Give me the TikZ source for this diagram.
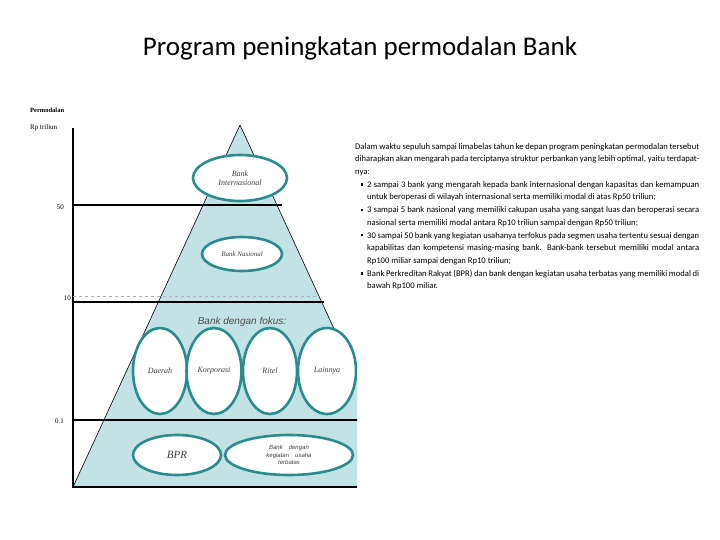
\documentclass[tikz,border=0pt]{standalone}
\usetikzlibrary{shapes.geometric}
\usepackage{fontspec}
\setmainfont{Liberation Serif}
\newfontfamily\carfont{Carlito}
\newfontfamily\ars{Liberation Sans}
\definecolor{pyr}{HTML}{C3E2E5}
\definecolor{ring}{HTML}{2A8C8E}
\begin{document}
\begin{tikzpicture}[x=1pt,y=-1pt,
  ell/.style={draw=ring,line width=2.6pt,fill=white,ellipse,inner sep=0pt},
  lbl/.style={font=\itshape\fontsize{8}{9}\selectfont,align=center,text=black!75},
  ax/.style={font=\fontsize{7}{8}\selectfont}]
\useasboundingbox (0,0) rectangle (720,540);
\node (title) at (360,48) {\carfont\fontsize{27}{30}\selectfont Program peningkatan permodalan Bank};
\begin{scope}
\clip (0,90) rectangle (357,495);
\fill[pyr] (240,125) -- (73,487) -- (407,487) -- cycle;
\draw[line width=0.6pt] (240,125) -- (73,487) (240,125) -- (407,487);
\draw[line width=1.2pt] (73,128) -- (73,487) -- (400,487);
\draw[line width=1.3pt] (73,205) -- (282,205);
\draw[gray!60,dashed,line width=0.4pt] (73,296) -- (316,296);
\draw[line width=1.3pt] (73,302) -- (324,302);
\draw[line width=2pt] (73,420) -- (400,420);
\node[ell,minimum width=94pt,minimum height=46pt] (bi) at (240,178) {};
\node[lbl] at (bi) {Bank\\Internasional};
\node[ell,minimum width=80pt,minimum height=34pt] (bn) at (242,254) {};
\node[lbl,font=\itshape\fontsize{7}{8}\selectfont] at (bn) {Bank Nasional};
\node[font=\ars\itshape\fontsize{10}{12}\selectfont,text=black!70] (fok) at (242,322) {Bank dengan fokus:};
\node[ell,minimum width=54pt,minimum height=86pt] (da) at (160,371) {};
\node[ell,minimum width=55pt,minimum height=86pt] (ko) at (214,371) {};
\node[ell,minimum width=54pt,minimum height=86pt] (ri) at (270,371) {};
\node[ell,minimum width=58pt,minimum height=86pt] (la) at (327,371) {};
\node[lbl] at (da) {Daerah};
\node[lbl] at (ko) {Korporasi};
\node[lbl] at (ri) {Ritel};
\node[lbl] at (la) {Lainnya};
\node[ell,minimum width=88pt,minimum height=40pt] (bpr) at (177,455) {};
\node[lbl,font=\itshape\fontsize{11}{12}\selectfont] at (bpr) {BPR};
\node[ell,minimum width=128pt,minimum height=40pt] (bk) at (289,455) {};
\node[lbl,font=\ars\itshape\fontsize{6}{7.5}\selectfont] at (bk) {Bank\quad dengan\\kegiatan\quad usaha\\terbatas};
\end{scope}
\node[ax,font=\bfseries\fontsize{6.5}{7}\selectfont,anchor=west,inner sep=0pt] (pm) at (30,110) {Permodalan};
\node[ax,anchor=west,inner sep=0pt] (rp) at (30,128) {Rp triliun};
\node[ax,anchor=east,inner sep=0pt] (v50) at (64,207) {50};
\node[ax,anchor=east,inner sep=0pt] (v10) at (71,298) {10};
\node[ax,anchor=east,inner sep=0pt] (v01) at (64,421) {0.1};
\node[anchor=north west,inner sep=0pt,text width=344pt,font=\carfont\fontsize{8.6}{12.7}\selectfont,align=justify] (txt) at (355,143) {%
Dalam waktu sepuluh sampai limabelas tahun ke depan program peningkatan permodalan tersebut diharapkan akan mengarah pada terciptanya struktur perbankan yang lebih optimal, yaitu terdapatnya:
\begin{list}{\rule[0.4ex]{2.5pt}{2.5pt}}{\setlength{\leftmargin}{12pt}\setlength{\labelwidth}{8pt}\setlength{\labelsep}{4pt}\setlength{\itemsep}{0pt}\setlength{\parsep}{0pt}\setlength{\topsep}{0pt}}
\item 2 sampai 3 bank yang mengarah kepada bank internasional dengan kapasitas dan kemampuan untuk beroperasi di wilayah internasional serta memiliki modal di atas Rp50 triliun;
\item 3 sampai 5 bank nasional yang memiliki cakupan usaha yang sangat luas dan beroperasi secara nasional serta memiliki modal antara Rp10 triliun sampai dengan Rp50 triliun;
\item 30 sampai 50 bank yang kegiatan usahanya terfokus pada segmen usaha tertentu sesuai dengan kapabilitas dan kompetensi masing-masing bank. Bank-bank tersebut memiliki modal antara Rp100 miliar sampai dengan Rp10 triliun;
\item Bank Perkreditan Rakyat (BPR) dan bank dengan kegiatan usaha terbatas yang memiliki modal di bawah Rp100 miliar.
\end{list}};
\end{tikzpicture}
\end{document}
